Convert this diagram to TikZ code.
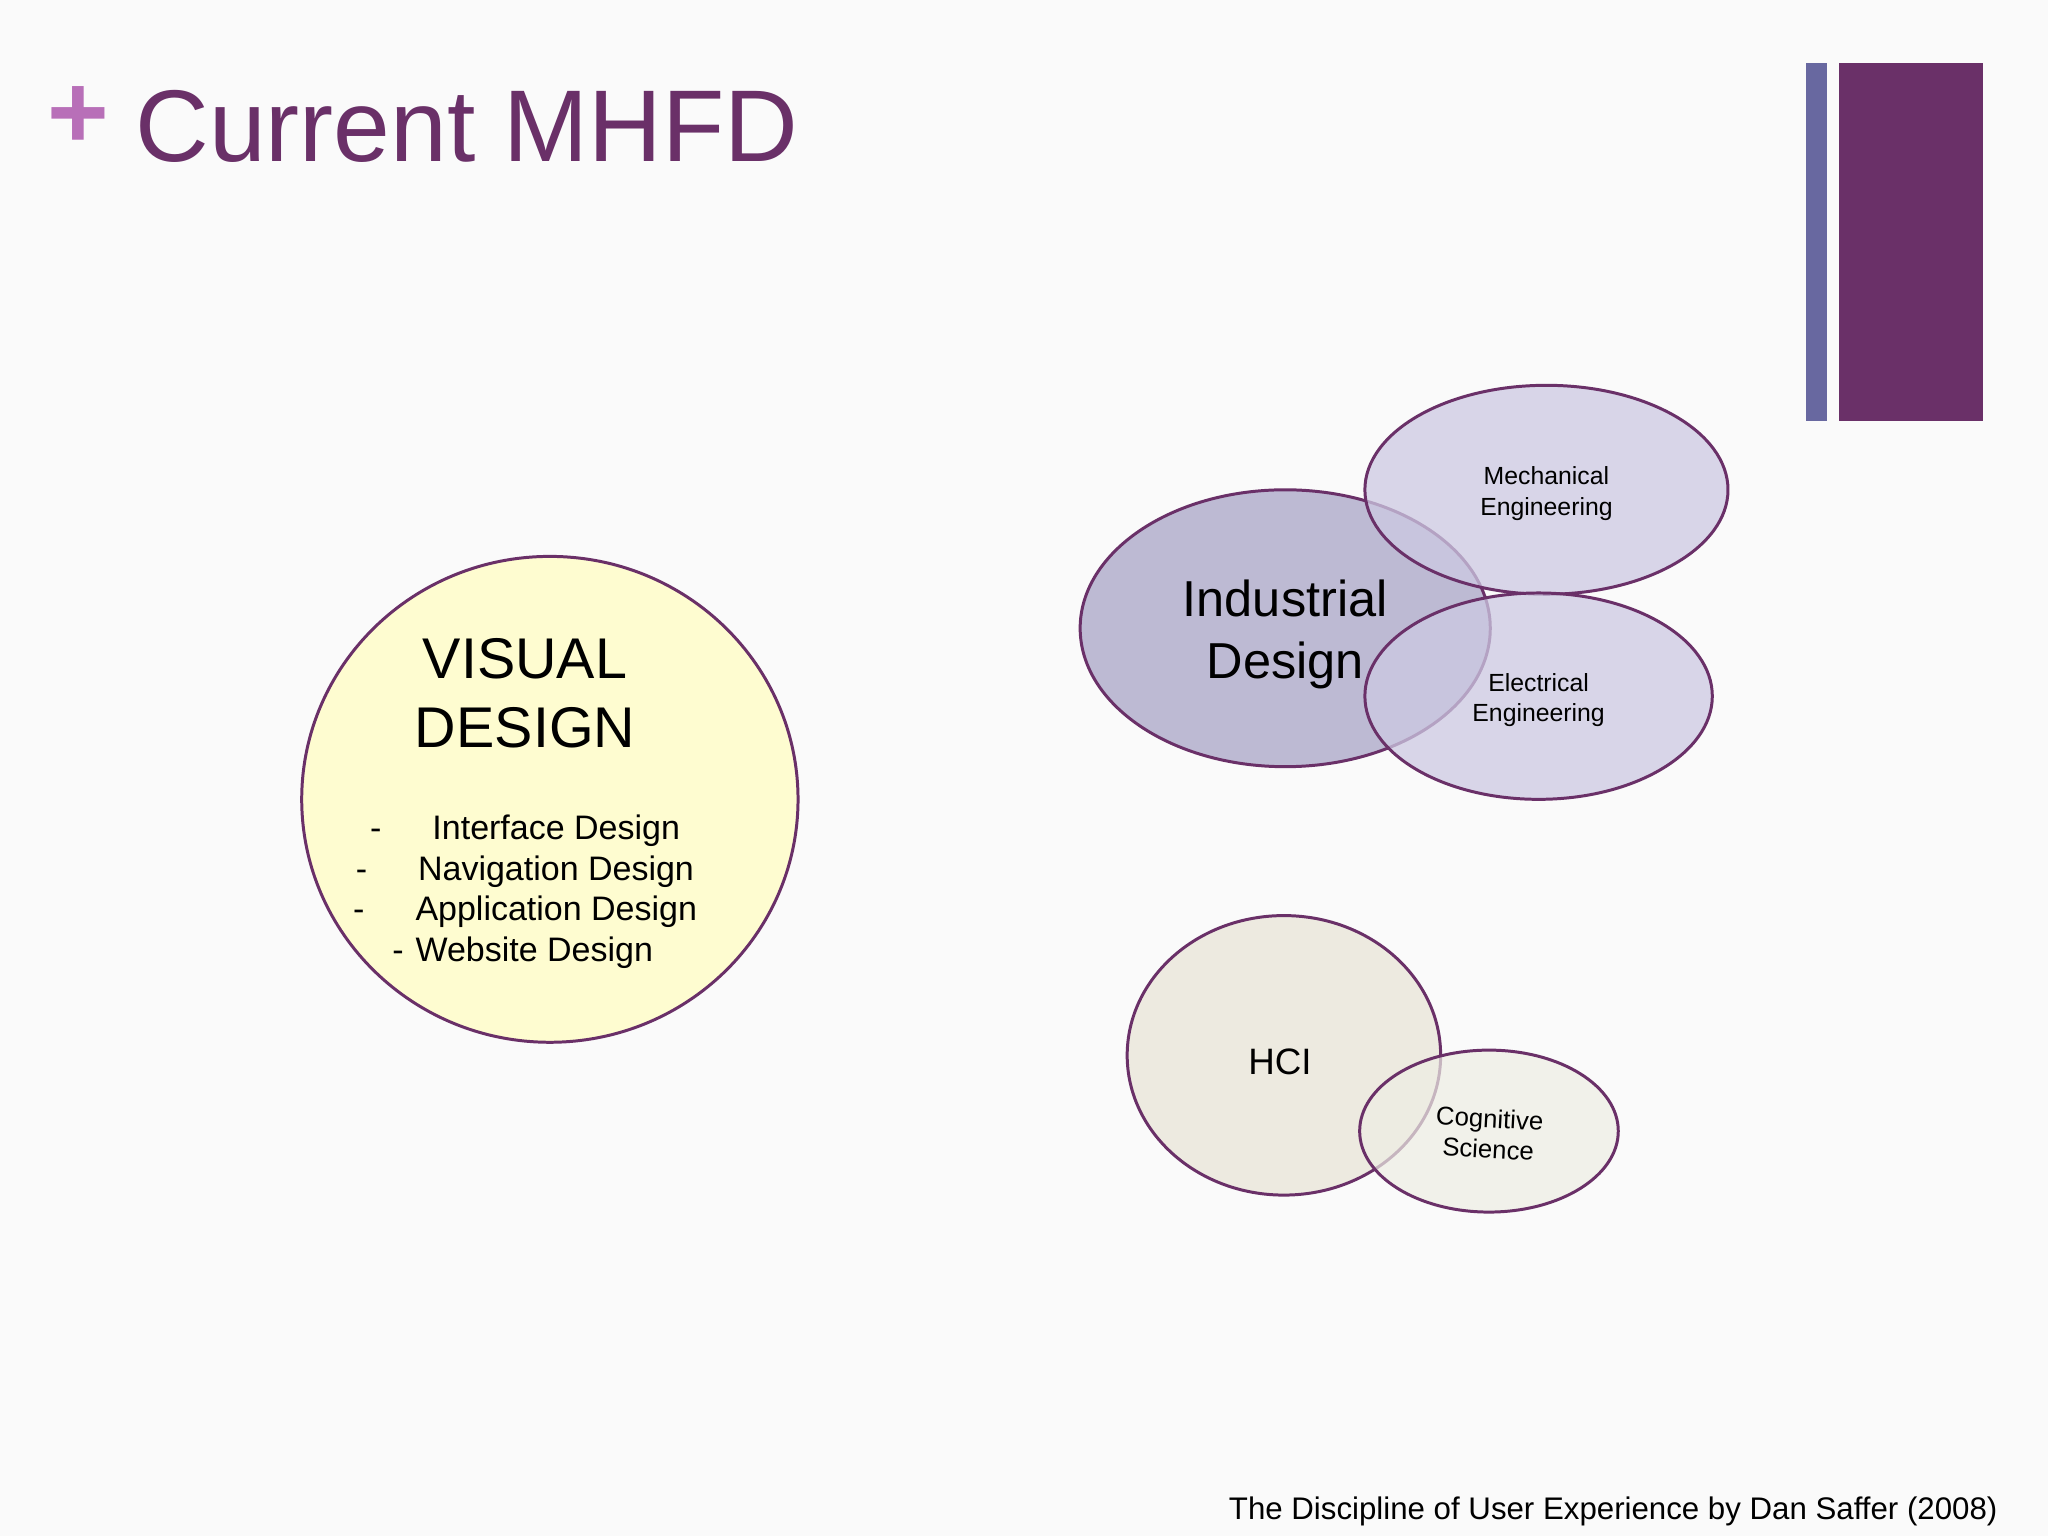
\documentclass[tikz,border=0pt]{standalone}
\usepackage{fontspec}
\setmainfont{Liberation Sans}
\definecolor{dpurple}{HTML}{6A3068}
\definecolor{bgrey}{HTML}{6868A0}
\definecolor{pplus}{HTML}{B86FB8}
\begin{document}
\begin{tikzpicture}[x=0.01cm,y=-0.01cm,
  circ/.style={draw=dpurple,line width=0.65pt},
  lbl/.style={align=center,text=black},
  item/.style={anchor=base west,font=\fontsize{7.4}{8}\selectfont}]
\useasboundingbox (0,0) rectangle (1568,1176);
\fill[white!98!black] (0,0) rectangle (1568,1176);
\node[text=pplus,font=\fontsize{23}{23}\selectfont\bfseries] (plus) at (60,90) {+};
\node[anchor=base west,text=dpurple,font=\fontsize{22.2}{22}\selectfont,inner sep=0] (title) at (103,124) {Current MHFD};
\fill[bgrey] (1383,48) rectangle (1399,322);
\fill[dpurple] (1408,48) rectangle (1518,322);
% visual design
\draw[circ,fill={rgb,255:red,254;green,252;blue,208}] (421,612) ellipse [x radius=190,y radius=186];
\node[lbl,font=\fontsize{12.5}{15}\selectfont] (vd) at (402,531) {VISUAL\\DESIGN};
\node[item] (l1) at (271,643) {-\hspace{1.5em}Interface Design};
\node[item] (l2) at (260,674) {-\hspace{1.5em}Navigation Design};
\node[item] (l3) at (258,705) {-\hspace{1.5em}Application Design};
\node[item] (l4) at (288,736) {-\hspace{0.35em}Website Design};
% industrial cluster
\draw[circ,fill={rgb,255:red,189;green,186;blue,211}] (984,481) ellipse [x radius=157,y radius=106];
\draw[circ,fill={rgb,255:red,205;green,201;blue,226},fill opacity=0.75] (1184,375) ellipse [x radius=139,y radius=80];
\draw[circ,fill={rgb,255:red,205;green,201;blue,226},fill opacity=0.75] (1178,533) ellipse [x radius=133,y radius=79];
\node[lbl,font=\fontsize{11}{13.5}\selectfont] (id) at (984,486) {Industrial\\Design};
\node[lbl,font=\fontsize{5.4}{6.6}\selectfont] (me) at (1184,378) {Mechanical\\Engineering};
\node[lbl,font=\fontsize{5.4}{6.6}\selectfont] (ee) at (1178,536) {Electrical\\Engineering};
% HCI
\draw[circ,fill={rgb,255:red,237;green,234;blue,224}] (983,808) ellipse [x radius=120,y radius=107];
\draw[circ,fill={rgb,255:red,238;green,238;blue,228},fill opacity=0.7] (1140,866) ellipse [x radius=99,y radius=62];
\node[lbl,font=\fontsize{8}{9}\selectfont] (hci) at (980,813) {HCI};
\node[lbl,font=\fontsize{5.6}{6.6}\selectfont,rotate=-3] (cs) at (1140,868) {Cognitive\\Science};
\node[anchor=base east,font=\fontsize{6.8}{7}\selectfont,inner sep=0] (foot) at (1530,1163) {The Discipline of User Experience by Dan Saffer (2008)};
\end{tikzpicture}
\end{document}
